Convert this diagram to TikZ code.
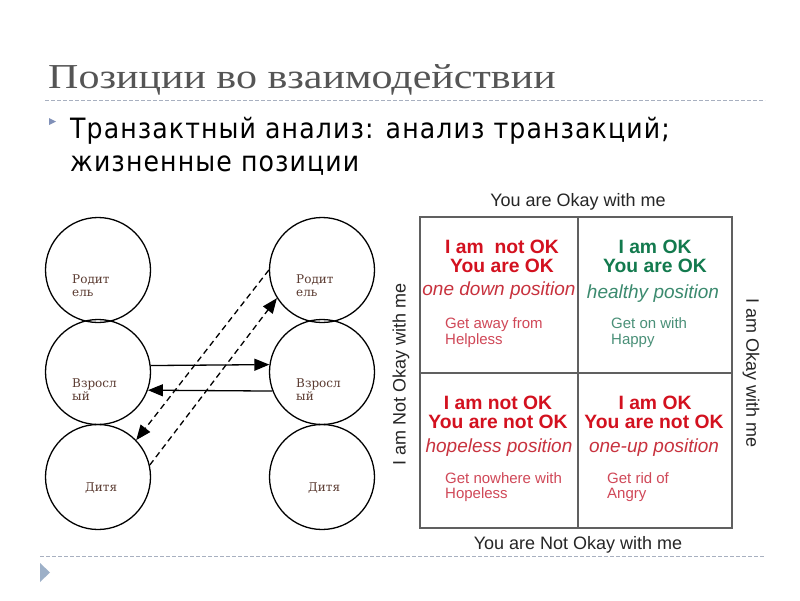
\documentclass[tikz,border=0pt]{standalone}
\usepackage{fontspec}
\setmainfont{Liberation Serif}
\newfontfamily\titlefont{Liberation Serif}
\newfontfamily\bulletfont[LetterSpace=4]{DejaVu Sans Condensed}
\newfontfamily\circfont{DejaVu Serif}
\newfontfamily\gridfont{Liberation Sans}
\usetikzlibrary{arrows.meta,calc}
\definecolor{titlegrey}{HTML}{555555}
\definecolor{dashgrey}{HTML}{A8B0C0}
\definecolor{bullblue}{HTML}{8090B8}
\definecolor{bullblue2}{HTML}{9DB0C8}
\definecolor{circtext}{HTML}{5A3A30}
\definecolor{gridline}{HTML}{606060}
\definecolor{redbold}{HTML}{D3111F}
\definecolor{reditalic}{HTML}{C8323E}
\definecolor{redsmall}{HTML}{D04858}
\definecolor{greenbold}{HTML}{137A4E}
\definecolor{greenitalic}{HTML}{3B8A6E}
\definecolor{greensmall}{HTML}{4A9078}
\tikzset{
  ego/.style={circle,draw=black,line width=1.3pt,minimum size=105pt,inner sep=0pt},
  ctext/.style={anchor=base west,inner sep=0pt,font=\circfont\fontsize{12}{14}\selectfont,text=circtext},
  tarrow/.style={line width=1.3pt,-{Triangle[length=15pt,width=12pt]}},
  darrow/.style={line width=1.3pt,dash pattern=on 6pt off 4pt,-{Triangle[length=15pt,width=12pt]}},
  qbold/.style={anchor=base,inner sep=0pt,font=\gridfont\bfseries\fontsize{19.3}{21}\selectfont},
  qital/.style={anchor=base,inner sep=0pt,font=\gridfont\itshape\fontsize{19}{21}\selectfont},
  qsmall/.style={anchor=base west,inner sep=0pt,font=\gridfont\fontsize{15}{17}\selectfont},
  axfont/.style={inner sep=0pt,font=\gridfont\fontsize{18}{20}\selectfont,text=black!85},
  sepline/.style={draw=dashgrey,line width=0.9pt,dash pattern=on 4pt off 2pt}
}
\begin{document}
\begin{tikzpicture}[x=1pt,y=-1pt]
\useasboundingbox[fill=white] (0,0) rectangle (800,600);
% title
\node[anchor=base west,inner sep=0pt,font=\titlefont\fontsize{35}{40}\selectfont,text=titlegrey] (title) at (48,88) {\scalebox{1.2}[1]{Позиции во взаимодействии}};
\coordinate (s1a) at (45,100);
\coordinate (s1b) at (765,100);
\draw[sepline] (s1a) -- (s1b);
% bullet
\fill[bullblue] (49,118) -- (56,121.5) -- (49,125) -- cycle;
\node[anchor=base west,inner sep=0pt,font=\bulletfont\fontsize{28}{32}\selectfont] (b1) at (70,138) {Транзактный анализ: анализ транзакций;};
\node[anchor=base west,inner sep=0pt,font=\bulletfont\fontsize{28}{32}\selectfont] (b2) at (70,171) {жизненные позиции};
% circles
\node[ego] (L1) at (98,270) {};
\node[ego] (L2) at (98,372) {};
\node[ego] (L3) at (98,477) {};
\node[ego] (R1) at (322,270) {};
\node[ego] (R2) at (322,372) {};
\node[ego] (R3) at (322,477) {};
\node[ctext] (l1a) at (72,283) {Родит};
\node[ctext] (l1b) at (72,296) {ель};
\node[ctext] (l2a) at (72,387) {Взросл};
\node[ctext] (l2b) at (72,400) {ый};
\node[ctext] (l3) at (85,491) {Дитя};
\node[ctext] (r1a) at (296,283) {Родит};
\node[ctext] (r1b) at (296,296) {ель};
\node[ctext] (r2a) at (296,387) {Взросл};
\node[ctext] (r2b) at (296,400) {ый};
\node[ctext] (r3) at (308,491) {Дитя};
% arrows
\draw[tarrow] (L2.7.66) -- (R2.172.34);
\draw[tarrow] (R2.-159.9) -- (L2.-20.1);
\draw[darrow] (R1.180) -- (L3.44);
\draw[darrow] (L3.13) -- (R1.-148);
% grid
\draw[gridline,line width=1.2pt] (420,217) rectangle (732,528);
\draw[gridline,line width=1.2pt] (578,217) -- (578,528);
\draw[gridline,line width=1.2pt] (420,373) -- (732,373);
\node[axfont,anchor=base] (top) at (578,206) {You are Okay with me};
\node[axfont,anchor=base] (bot) at (578,549) {You are Not Okay with me};
\node[axfont,rotate=90] (left) at (401,374) {I am Not Okay with me};
\node[axfont,rotate=-90] (right) at (751,373) {I am Okay with me};
% TL
\node[qbold,text=redbold] (tl1) at (502,253) {I am\ \ not OK};
\node[qbold,text=redbold] (tl2) at (502,272) {You are OK};
\node[qital,text=reditalic] (tl3) at (499,295) {one down position};
\node[qsmall,text=redsmall] (tl4) at (445,328) {Get away from};
\node[qsmall,text=redsmall] (tl5) at (445,344) {Helpless};
% TR
\node[qbold,text=greenbold] (tr1) at (655,253) {I am OK};
\node[qbold,text=greenbold] (tr2) at (655,272) {You are OK};
\node[qital,text=greenitalic] (tr3) at (653,298) {healthy position};
\node[qsmall,text=greensmall] (tr4) at (611,328) {Get on with};
\node[qsmall,text=greensmall] (tr5) at (611,344) {Happy};
% BL
\node[qbold,text=redbold] (bl1) at (498,409) {I am not OK};
\node[qbold,text=redbold] (bl2) at (498,428) {You are not OK};
\node[qital,text=reditalic] (bl3) at (499,452) {hopeless position};
\node[qsmall,text=redsmall] (bl4) at (445,483) {Get nowhere with};
\node[qsmall,text=redsmall] (bl5) at (445,498) {Hopeless};
% BR
\node[qbold,text=redbold] (br1) at (655,409) {I am OK};
\node[qbold,text=redbold] (br2) at (654,428) {You are not OK};
\node[qital,text=reditalic] (br3) at (654,452) {one-up position};
\node[qsmall,text=redsmall] (br4) at (607,483) {Get rid of};
\node[qsmall,text=redsmall] (br5) at (607,498) {Angry};
% bottom
\coordinate (s2a) at (40,556);
\coordinate (s2b) at (765,556);
\draw[sepline] (s2a) -- (s2b);
\fill[bullblue2] (40,563) -- (50,572.5) -- (40,582) -- cycle;
\end{tikzpicture}
\end{document}
